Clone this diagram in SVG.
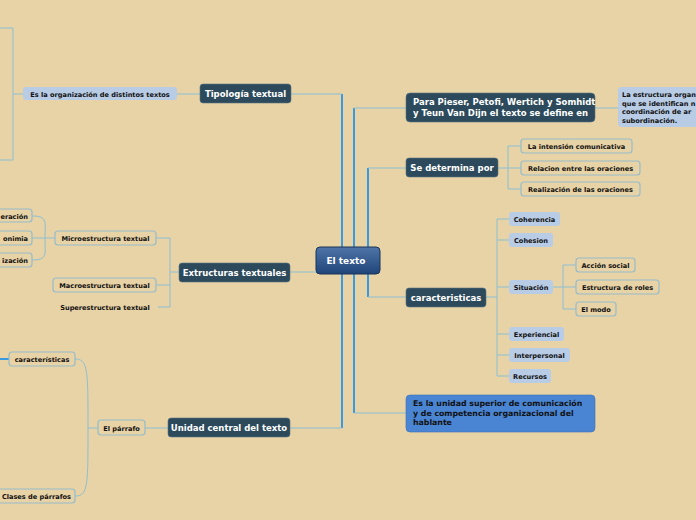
<svg xmlns="http://www.w3.org/2000/svg" width="696" height="520" viewBox="0 0 696 520">
<defs>
<linearGradient id="g" x1="0" y1="0" x2="0" y2="1"><stop offset="0" stop-color="#4f75a8"/><stop offset="1" stop-color="#1f4479"/></linearGradient>
<style>
text{font-family:"DejaVu Sans",Verdana,sans-serif;font-weight:bold}
.d{fill:#2c4a5c;stroke:#5b7384;stroke-width:0.6}
.dt{fill:#fff;font-size:8.5px}
.lb{fill:#b9cce6}
.o{fill:#e8d3a6;stroke:#96bccb;stroke-width:1.2}
.st{fill:#111;font-size:6.6px}
.c{fill:none;stroke:#8cbfd3;stroke-width:1}
.t{fill:none;stroke:#3a9ae0;stroke-width:2}
</style>
</defs>
<rect width="696" height="520" fill="#e8d3a6"/>
<g id="connectors">
<path class="t" d="M342 250V94M342 274V428M354 250V108M354 274V413M368 250V168M368 274V297"/>
<path class="c" d="M291 94H342M290 272H342M290 428H342M354 108H406M368 168H406M368 297H406M354 413H406"/>
<path class="c" d="M595 108H618M498 168H508M508 146V189M508 146H521M508 168H521M508 189H521"/>
<path class="c" d="M486 297H497M497 219V376M497 219H509M497 240H509M497 287H509M497 334H509M497 355H509M497 376H509"/>
<path class="c" d="M553 287H563M563 265V309M563 265H576M563 287H576M563 309H576"/>
<path class="c" d="M177 94H200M23 94H13M13 28V160M13 28H0M13 160H0"/>
<path class="c" d="M179 272H170M170 238V307M170 238H156M170 285H156M170 307H158"/>
<path class="c" d="M55 238H32M32 216C48 216 45 222 45 238C45 254 48 260 32 260"/>
<path class="c" d="M168 428H145M98 428H88M75 359C88 359 88 370 88 428C88 486 88 496 75 496"/>
<path class="t" d="M0 359H9"/>
</g>
<g id="el-texto"><rect x="316" y="247" width="64" height="27" rx="4" fill="url(#g)" stroke="#1a3358"/><text x="346" y="264" text-anchor="middle" fill="#fff" font-size="9">El texto</text></g>
<g id="tipologia"><rect class="d" x="200" y="84" width="91" height="19" rx="3"/><text class="dt" x="245.5" y="97" text-anchor="middle">Tipología textual</text></g>
<g id="organizacion"><rect class="lb" x="23" y="87" width="154" height="13" rx="3"/><text class="st" x="100" y="96.5" text-anchor="middle">Es la organización de distintos textos</text></g>
<g id="extructuras"><rect class="d" x="179" y="263" width="111" height="19" rx="3"/><text class="dt" x="234.5" y="276" text-anchor="middle">Extructuras textuales</text></g>
<g id="micro"><rect class="o" x="55" y="231" width="101" height="14" rx="3"/><text class="st" x="105.5" y="241" text-anchor="middle">Microestructura textual</text></g>
<g id="macro"><rect class="o" x="53" y="278" width="103" height="14" rx="3"/><text class="st" x="104.5" y="288" text-anchor="middle">Macroestructura textual</text></g>
<g id="super"><text class="st" x="105" y="310" text-anchor="middle">Superestructura textual</text></g>
<g id="reiteracion"><rect class="o" x="-20" y="209" width="52" height="13" rx="3"/><text class="st" x="28" y="218.5" text-anchor="end">eración</text></g>
<g id="sinonimia"><rect class="o" x="-20" y="231" width="52" height="14" rx="3"/><text class="st" x="28" y="241" text-anchor="end">onimia</text></g>
<g id="generalizacion"><rect class="o" x="-20" y="253" width="52" height="14" rx="3"/><text class="st" x="28" y="263" text-anchor="end">ización</text></g>
<g id="unidad"><rect class="d" x="168" y="418" width="122" height="19" rx="3"/><text class="dt" x="229" y="431" text-anchor="middle">Unidad central del texto</text></g>
<g id="parrafo"><rect class="o" x="98" y="420" width="47" height="15" rx="3"/><text class="st" x="121.5" y="430.5" text-anchor="middle">El párrafo</text></g>
<g id="caract-parrafo"><rect class="o" x="9" y="352" width="66" height="14" rx="3"/><text class="st" x="42" y="362" text-anchor="middle">características</text></g>
<g id="clases"><rect class="o" x="-10" y="489" width="85" height="14" rx="3"/><text class="st" x="71" y="499" text-anchor="end">Clases de párrafos</text></g>
<g id="pieser"><rect class="d" x="406" y="93" width="189" height="29" rx="4"/><text class="dt" x="413" y="105">Para Pieser, Petofi, Wertich y Somhidt</text><text class="dt" x="413" y="115.5">y Teun Van Dijn el texto se define en</text></g>
<g id="estructura"><rect class="lb" x="618" y="87" width="90" height="40" rx="4"/><text class="st" x="622" y="97">La estructura organ</text><text class="st" x="622" y="105.5">que se identifican n</text><text class="st" x="622" y="114">coordinación de ar</text><text class="st" x="622" y="122.5">subordinación.</text></g>
<g id="determina"><rect class="d" x="406" y="158" width="92" height="19" rx="3"/><text class="dt" x="452" y="171" text-anchor="middle">Se determina por</text></g>
<g id="intension"><rect class="o" x="521" y="139" width="111" height="14" rx="3"/><text class="st" x="576.5" y="149" text-anchor="middle">La intensión comunicativa</text></g>
<g id="relacion"><rect class="o" x="521" y="161" width="119" height="14" rx="3"/><text class="st" x="580.5" y="171" text-anchor="middle">Relacion entre las oraciones</text></g>
<g id="realizacion"><rect class="o" x="521" y="182" width="119" height="14" rx="3"/><text class="st" x="580.5" y="192" text-anchor="middle">Realización de las oraciones</text></g>
<g id="caracteristicas"><rect class="d" x="406" y="288" width="80" height="19" rx="3"/><text class="dt" x="446" y="301" text-anchor="middle">caracteristicas</text></g>
<g id="coherencia"><rect class="lb" x="509" y="212" width="51" height="14" rx="3"/><text class="st" x="534.5" y="222" text-anchor="middle">Coherencia</text></g>
<g id="cohesion"><rect class="lb" x="509" y="233" width="44" height="14" rx="3"/><text class="st" x="531" y="243" text-anchor="middle">Cohesion</text></g>
<g id="situacion"><rect class="lb" x="509" y="280" width="44" height="14" rx="3"/><text class="st" x="531" y="290" text-anchor="middle">Situación</text></g>
<g id="experiencial"><rect class="lb" x="509" y="327" width="55" height="14" rx="3"/><text class="st" x="536.5" y="337" text-anchor="middle">Experiencial</text></g>
<g id="interpersonal"><rect class="lb" x="509" y="348" width="61" height="14" rx="3"/><text class="st" x="539.5" y="358" text-anchor="middle">Interpersonal</text></g>
<g id="recursos"><rect class="lb" x="509" y="369" width="42" height="14" rx="3"/><text class="st" x="530" y="379" text-anchor="middle">Recursos</text></g>
<g id="accion"><rect class="o" x="576" y="258" width="59" height="14" rx="3"/><text class="st" x="605.5" y="268" text-anchor="middle">Acción social</text></g>
<g id="roles"><rect class="o" x="576" y="280" width="83" height="14" rx="3"/><text class="st" x="617.5" y="290" text-anchor="middle">Estructura de roles</text></g>
<g id="modo"><rect class="o" x="576" y="302" width="40" height="14" rx="3"/><text class="st" x="596" y="312" text-anchor="middle">El modo</text></g>
<g id="unidad-superior"><rect x="406" y="395" width="189" height="37" rx="4" fill="#4a85d3" stroke="#3b6fb5" stroke-width="0.6"/><text x="413" y="406" font-size="7.8" fill="#111">Es la unidad superior de comunicación</text><text x="413" y="415.5" font-size="7.8" fill="#111">y de competencia organizacional del</text><text x="413" y="425" font-size="7.8" fill="#111">hablante</text></g>
</svg>
